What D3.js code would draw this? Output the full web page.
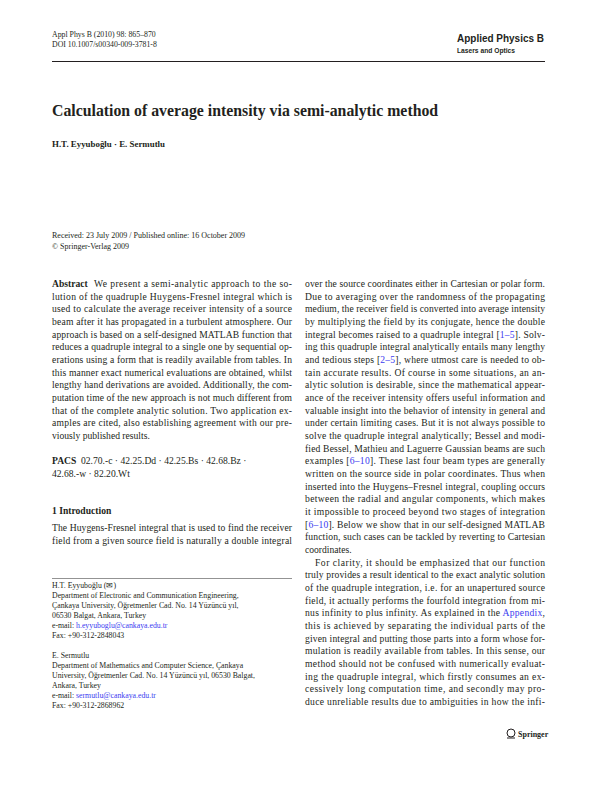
<!DOCTYPE html>
<html><head><meta charset="utf-8">
<script src="https://cdn.jsdelivr.net/npm/d3@7"></script>
<style>body{margin:0;background:#fff}</style>
</head><body><svg id="page" width="595" height="791"></svg>
<script>
// page text, one entry per printed line; {..} marks blue link text, trailing "|" = unjustified last line
const headerLeft = ["Appl Phys B (2010) 98: 865–870", "DOI 10.1007/s00340-009-3781-8"];
const titleText = "Calculation of average intensity via semi-analytic method";
const authorsText = "H.T. Eyyuboğlu · E. Sermutlu";
const receivedLines = ["Received: 23 July 2009 / Published online: 16 October 2009", "© Springer-Verlag 2009"];

const abstractLines = [
  "We present a semi-analytic approach to the so-",
  "lution of the quadruple Huygens-Fresnel integral which is",
  "used to calculate the average receiver intensity of a source",
  "beam after it has propagated in a turbulent atmosphere. Our",
  "approach is based on a self-designed MATLAB function that",
  "reduces a quadruple integral to a single one by sequential op-",
  "erations using a form that is readily available from tables. In",
  "this manner exact numerical evaluations are obtained, whilst",
  "lengthy hand derivations are avoided. Additionally, the com-",
  "putation time of the new approach is not much different from",
  "that of the complete analytic solution. Two application ex-",
  "amples are cited, also establishing agreement with our pre-",
  "viously published results.|"
];
const pacsLines = ["02.70.-c · 42.25.Dd · 42.25.Bs · 42.68.Bz ·", "42.68.-w · 82.20.Wt"];
const introLines = [
  "The Huygens-Fresnel integral that is used to find the receiver",
  "field from a given source field is naturally a double integral"
];
const footLines = [
  "H.T. Eyyuboğlu (✉)",
  "Department of Electronic and Communication Engineering,",
  "Çankaya University, Öğretmenler Cad. No. 14 Yüzüncü yıl,",
  "06530 Balgat, Ankara, Turkey",
  "e-mail: {h.eyyuboglu@cankaya.edu.tr}",
  "Fax: +90-312-2848043",
  "",
  "E. Sermutlu",
  "Department of Mathematics and Computer Science, Çankaya",
  "University, Öğretmenler Cad. No. 14 Yüzüncü yıl, 06530 Balgat,",
  "Ankara, Turkey",
  "e-mail: {sermutlu@cankaya.edu.tr}",
  "Fax: +90-312-2868962"
];
const rightLines = [
  "over the source coordinates either in Cartesian or polar form.",
  "Due to averaging over the randomness of the propagating",
  "medium, the receiver field is converted into average intensity",
  "by multiplying the field by its conjugate, hence the double",
  "integral becomes raised to a quadruple integral [{1–5}]. Solv-",
  "ing this quadruple integral analytically entails many lengthy",
  "and tedious steps [{2–5}], where utmost care is needed to ob-",
  "tain accurate results. Of course in some situations, an an-",
  "alytic solution is desirable, since the mathematical appear-",
  "ance of the receiver intensity offers useful information and",
  "valuable insight into the behavior of intensity in general and",
  "under certain limiting cases. But it is not always possible to",
  "solve the quadruple integral analytically; Bessel and modi-",
  "fied Bessel, Mathieu and Laguerre Gaussian beams are such",
  "examples [{6–10}]. These last four beam types are generally",
  "written on the source side in polar coordinates. Thus when",
  "inserted into the Huygens–Fresnel integral, coupling occurs",
  "between the radial and angular components, which makes",
  "it impossible to proceed beyond two stages of integration",
  "[{6–10}]. Below we show that in our self-designed MATLAB",
  "function, such cases can be tackled by reverting to Cartesian",
  "coordinates.|",
  "For clarity, it should be emphasized that our function",
  "truly provides a result identical to the exact analytic solution",
  "of the quadruple integration, i.e. for an unapertured source",
  "field, it actually performs the fourfold integration from mi-",
  "nus infinity to plus infinity. As explained in the {Appendix},",
  "this is achieved by separating the individual parts of the",
  "given integral and putting those parts into a form whose for-",
  "mulation is readily available from tables. In this sense, our",
  "method should not be confused with numerically evaluat-",
  "ing the quadruple integral, which firstly consumes an ex-",
  "cessively long computation time, and secondly may pro-",
  "duce unreliable results due to ambiguities in how the infi-"
];

const svg = d3.select("#page");
const serif = "'Liberation Serif','DejaVu Serif',serif";
const sans = "'Liberation Sans','DejaVu Sans',sans-serif";
const ink = "#231f20", blue = "#3b3bf0";
const lead = 12.67, body = 9.6;

function block(lines, x, y0, step, width, size, opts = {}) {
  const g = svg.append("g").attr("font-family", serif).attr("font-size", size).attr("fill", ink);
  lines.forEach((raw, i) => {
    if (!raw) return;
    const last = raw.endsWith("|");
    const s = last ? raw.slice(0, -1) : raw;
    const indent = (opts.indent || []).includes(i) ? 10 : 0;
    const xi = x + indent + (i === 0 && opts.firstOffset ? opts.firstOffset : 0);
    const t = g.append("text").attr("x", xi).attr("y", y0 + i * step);
    if (width && !last) t.attr("textLength", width - (xi - x)).attr("lengthAdjust", "spacing");
    s.split(/(\{[^}]*\})/).forEach(part => {
      if (!part) return;
      const link = part.startsWith("{");
      t.append("tspan").attr("fill", link ? blue : null).text(link ? part.slice(1, -1) : part);
    });
  });
  return g;
}
function bold(txt, x, y, size) {
  return svg.append("text").attr("x", x).attr("y", y).attr("font-family", serif)
    .attr("font-weight", "bold").attr("font-size", size).attr("fill", ink).text(txt);
}

// header
block(headerLeft, 52, 37, 10, null, 7.8);
svg.append("text").attr("x", 457).attr("y", 42).attr("textLength", 87).attr("lengthAdjust", "spacingAndGlyphs")
  .attr("font-family", sans).attr("font-weight", "bold").attr("font-size", 11.5).attr("fill", ink).text("Applied Physics B");
svg.append("text").attr("x", 457).attr("y", 53).attr("textLength", 58).attr("lengthAdjust", "spacingAndGlyphs")
  .attr("font-family", sans).attr("font-weight", "bold").attr("font-size", 7.5).attr("fill", ink).text("Lasers and Optics");
svg.append("line").attr("x1", 52).attr("x2", 545).attr("y1", 61.5).attr("y2", 61.5).attr("stroke", ink).attr("stroke-width", 1);

// title + authors
bold(titleText, 52, 116, 15.8);
bold(authorsText, 52, 147, 8.9);
block(receivedLines, 52, 238, 11, null, 8);

// left column
const colW = 240;
bold("Abstract", 52, 287, body);
block(abstractLines, 52, 287, lead, colW, body, { firstOffset: 42 });
bold("PACS", 52, 287 + 14 * lead, body);
block(pacsLines.slice(0, 1), 81, 287 + 14 * lead, lead, null, body);
block(pacsLines.slice(1), 52, 287 + 15 * lead, lead, null, body);
bold("1  Introduction", 52, 514, body);
block(introLines, 52, 531, lead, colW, body);
svg.append("line").attr("x1", 52).attr("x2", 292).attr("y1", 578.5).attr("y2", 578.5).attr("stroke", "#777").attr("stroke-width", 0.8);
block(footLines, 52, 588, 10, null, 7.8);

// right column
block(rightLines, 305, 287, lead, colW, body, { indent: [22] });

// springer mark
const sp = svg.append("g").attr("transform", "translate(511,733)");
sp.append("circle").attr("r", 4).attr("fill", "none").attr("stroke", ink).attr("stroke-width", 1);
sp.append("line").attr("x1", -4).attr("x2", 4).attr("y1", 5).attr("y2", 5).attr("stroke", ink).attr("stroke-width", 1);
sp.append("text").attr("x", 7).attr("y", 3.5).attr("font-family", serif).attr("font-weight", "bold")
  .attr("font-size", 8).attr("fill", ink).text("Springer");
</script></body></html>
